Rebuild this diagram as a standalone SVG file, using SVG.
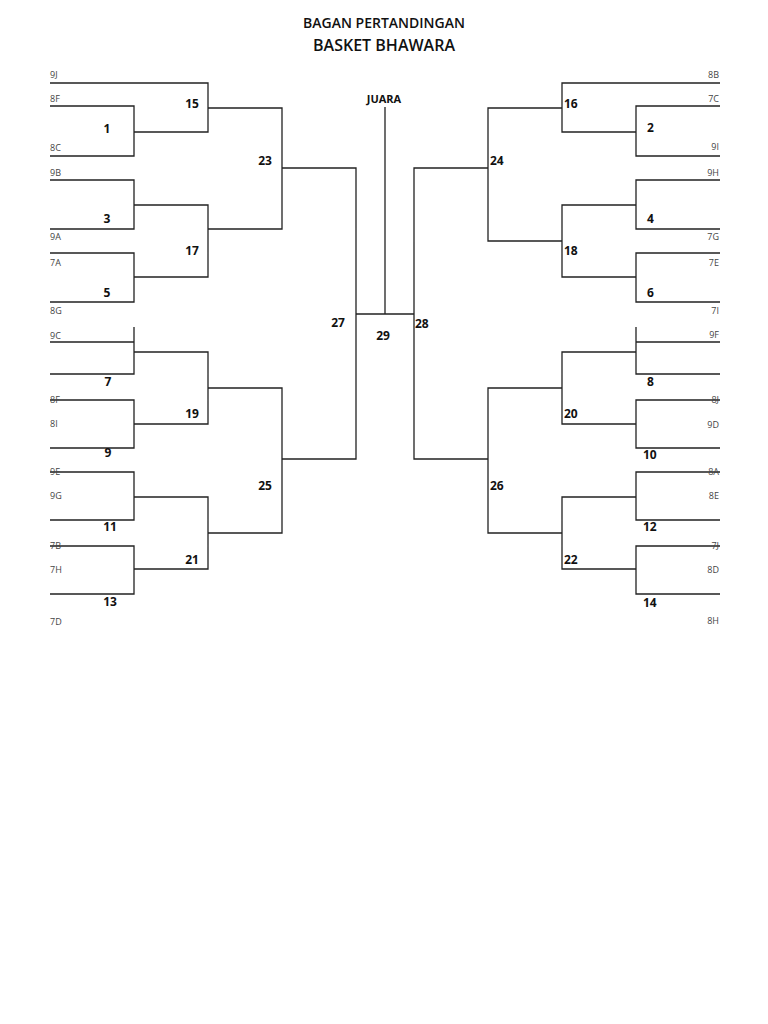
<svg xmlns="http://www.w3.org/2000/svg" width="768" height="1024" viewBox="0 0 768 1024">
<style>
.l{fill:none;stroke:#222;stroke-width:1.3}
.t{font-family:"Open Sans","Liberation Sans",sans-serif;font-size:9px;fill:#444}
.n{font-family:"Open Sans","Liberation Sans",sans-serif;font-size:12px;font-weight:bold;fill:#111}
.m{text-anchor:middle}
.e{text-anchor:end}
</style>
<rect width="768" height="1024" fill="#fff"/>
<g id="title">
<text x="384" y="28" class="n m" style="font-size:14px;font-weight:600">BAGAN PERTANDINGAN</text>
<text x="384" y="51" class="n m" style="font-size:16px;font-weight:600">BASKET BHAWARA</text>
<text x="384" y="103" class="n m" style="font-size:11px">JUARA</text>
</g>
<g id="connectors">
<path class="l" d="M50 83H208V132H134M50 106H134V156H50M208 108H282V229H208M50 180H134V229H50M134 205H208V277H134M50 253H134V302H50M282 168H356V459H282"/>
<path class="l" d="M134 327V374H50M50 342H134M134 352H208V424H134M50 400H134V448H50M208 388H282V533H208M50 472H134V520H50M134 497H208V569H134M50 546H134V594H50"/>
<path class="l" d="M720 83H562V132H636M720 106H636V156H720M562 108H488V241H562M720 180H636V229H720M636 205H562V277H636M720 253H636V302H720M488 168H414V459H488"/>
<path class="l" d="M636 327V374H720M720 342H636M636 352H562V424H636M720 400H636V448H720M562 388H488V533H562M720 472H636V520H720M636 497H562V569H636M720 546H636V594H720"/>
<path class="l" d="M356 314H414M385 107V314"/>
</g>
<g id="left-teams" class="t">
<text x="50" y="78" class="t">9J</text><text x="50" y="102" class="t">8F</text><text x="50" y="151" class="t">8C</text>
<text x="50" y="176" class="t">9B</text><text x="50" y="240" class="t">9A</text><text x="50" y="266" class="t">7A</text>
<text x="50" y="314" class="t">8G</text><text x="50" y="339" class="t">9C</text><text x="50" y="403" class="t">8F</text>
<text x="50" y="427" class="t">8I</text><text x="50" y="475" class="t">9E</text><text x="50" y="499" class="t">9G</text>
<text x="50" y="549" class="t">7B</text><text x="50" y="573" class="t">7H</text><text x="50" y="625" class="t">7D</text>
</g>
<g id="right-teams">
<text x="719" y="78" class="t e">8B</text><text x="719" y="102" class="t e">7C</text><text x="719" y="150" class="t e">9I</text>
<text x="719" y="176" class="t e">9H</text><text x="719" y="240" class="t e">7G</text><text x="719" y="266" class="t e">7E</text>
<text x="719" y="314" class="t e">7I</text><text x="719" y="338" class="t e">9F</text><text x="719" y="403" class="t e">8J</text>
<text x="719" y="428" class="t e">9D</text><text x="719" y="475" class="t e">8A</text><text x="719" y="499" class="t e">8E</text>
<text x="719" y="549" class="t e">7J</text><text x="719" y="573" class="t e">8D</text><text x="719" y="624" class="t e">8H</text>
</g>
<g id="left-matches">
<text x="107" y="133" class="n m">1</text><text x="192" y="108" class="n m">15</text><text x="265" y="165" class="n m">23</text>
<text x="107" y="223" class="n m">3</text><text x="192" y="255" class="n m">17</text><text x="107" y="297" class="n m">5</text>
<text x="338" y="327" class="n m">27</text><text x="108" y="386" class="n m">7</text><text x="192" y="418" class="n m">19</text>
<text x="108" y="457" class="n m">9</text><text x="265" y="490" class="n m">25</text><text x="110" y="531" class="n m">11</text>
<text x="192" y="564" class="n m">21</text><text x="110" y="606" class="n m">13</text>
</g>
<g id="final"><text x="383" y="340" class="n m">29</text></g>
<g id="right-matches">
<text x="564" y="108" class="n">16</text><text x="647" y="132" class="n">2</text><text x="490" y="165" class="n">24</text>
<text x="647" y="223" class="n">4</text><text x="564" y="255" class="n">18</text><text x="647" y="297" class="n">6</text>
<text x="415" y="328" class="n">28</text><text x="647" y="386" class="n">8</text><text x="564" y="418" class="n">20</text>
<text x="643" y="459" class="n">10</text><text x="490" y="490" class="n">26</text><text x="643" y="531" class="n">12</text>
<text x="564" y="564" class="n">22</text><text x="643" y="607" class="n">14</text>
</g>
</svg>
